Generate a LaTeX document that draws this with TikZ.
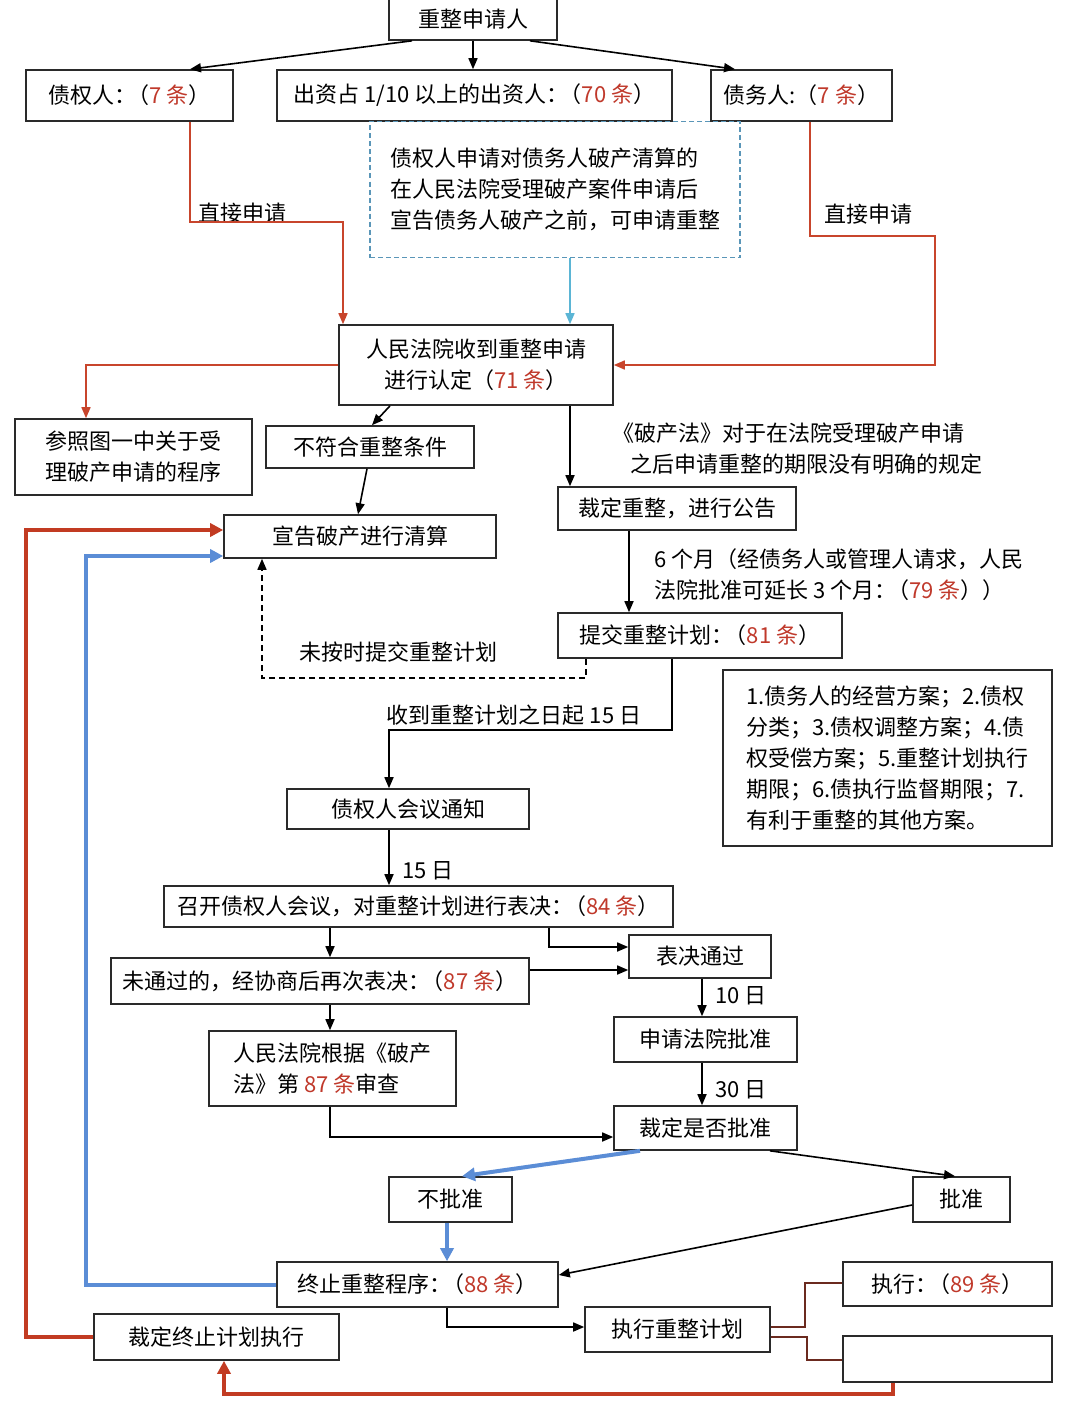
\documentclass[tikz,border=0pt]{standalone}
\usepackage{fontspec}
\setmainfont{Noto Sans CJK SC}
\usetikzlibrary{arrows.meta}
\definecolor{numred}{HTML}{C0392B}
\definecolor{boxc}{HTML}{2A2A2A}
\definecolor{redl}{HTML}{C8452C}
\definecolor{thickred}{HTML}{C23B22}
\definecolor{bluel}{HTML}{5B8DD6}
\definecolor{cyanl}{HTML}{5BB5D5}
\definecolor{dashb}{HTML}{5A96B8}
\definecolor{brownl}{HTML}{6B2A1F}
\newcommand\myfs{\fontsize{22}{31}\selectfont}
\newcommand\rn[1]{\textcolor{numred}{#1}}
\newcommand\cpar{：\kern-9pt（}
\tikzset{
  box/.style={draw=boxc, line width=1.6pt, inner sep=0pt, font=\myfs, align=center},
  lbl/.style={inner sep=0pt, font=\myfs},
  arr/.style={draw=black, line width=1.6pt, -{Triangle[length=11pt,width=9pt]}},
  dasharr/.style={draw=black, line width=1.6pt, dash pattern=on 6pt off 4pt, -{Triangle[length=11pt,width=9pt]}},
  redarr/.style={draw=redl, line width=1.5pt, -{Triangle[length=11pt,width=9pt]}},
  cyanarr/.style={draw=cyanl, line width=1.5pt, -{Triangle[length=11pt,width=9pt]}},
  bluearr/.style={draw=bluel, line width=4pt, -{Triangle[length=13pt,width=13pt]}},
  thickredarr/.style={draw=thickred, line width=4pt, -{Triangle[length=13pt,width=13pt]}},
  brownline/.style={draw=brownl, line width=1.5pt},
}
\begin{document}
\begin{tikzpicture}[x=1pt,y=-1pt]
\useasboundingbox[fill=white] (0,0) rectangle (1080,1402);

% boxes
\node[box, minimum width=168, minimum height=42] (top) at (473,19) {重整申请人};
\node[box, minimum width=207, minimum height=51] (cr) at (129.5,95.5) {债权人\cpar\rn{7 条}）};
\node[box, minimum width=395, minimum height=51] (inv) at (474.5,95.5) {出资占 1/10 以上的出资人\cpar\rn{70 条}）};
\node[box, minimum width=181, minimum height=51] (dr) at (801.5,95.5) {债务人:（\rn{7 条}）};
\node[draw=dashb, line width=1.5pt, dash pattern=on 5pt off 3pt, inner sep=0pt, font=\myfs, align=left,
      minimum width=370, minimum height=136] (dash) at (555,189.5)
  {债权人申请对债务人破产清算的\\在人民法院受理破产案件申请后\\宣告债务人破产之前，可申请重整};
\node[box, minimum width=274, minimum height=80] (court) at (476,365) {人民法院收到重整申请\\进行认定（\rn{71 条}）};
\node[box, minimum width=237, minimum height=76, align=left] (ref) at (133.5,457) {参照图一中关于受\\理破产申请的程序};
\node[box, minimum width=208, minimum height=42] (nq) at (370,447) {不符合重整条件};
\node[box, minimum width=272, minimum height=43] (liq) at (360,536.5) {宣告破产进行清算};
\node[box, minimum width=238, minimum height=43] (rul) at (677,508.5) {裁定重整，进行公告};
\node[box, minimum width=284, minimum height=45] (sub) at (700,635.5) {提交重整计划\cpar\rn{81 条}）};
\node[box, minimum width=329, minimum height=176, align=left] (list) at (887.5,758)
  {1.债务人的经营方案；2.债权\\分类；3.债权调整方案；4.债\\权受偿方案；5.重整计划执行\\期限；6.债执行监督期限；7.\\有利于重整的其他方案。};
\node[box, minimum width=242, minimum height=40] (notice) at (408,809) {债权人会议通知};
\node[box, minimum width=509, minimum height=41] (meet) at (418.5,906.5) {召开债权人会议，对重整计划进行表决\cpar\rn{84 条}）};
\node[box, minimum width=142, minimum height=43] (pass) at (700,956.5) {表决通过};
\node[box, minimum width=418, minimum height=46] (fail) at (320,981) {未通过的，经协商后再次表决\cpar\rn{87 条}）};
\node[box, minimum width=247, minimum height=75, align=left] (rev) at (332.5,1068.5) {人民法院根据《破产\\法》第 \rn{87 条}审查};
\node[box, minimum width=183, minimum height=45] (app) at (705.5,1039.5) {申请法院批准};
\node[box, minimum width=183, minimum height=44] (dec) at (705.5,1128) {裁定是否批准};
\node[box, minimum width=123, minimum height=45] (nap) at (450.5,1199.5) {不批准};
\node[box, minimum width=97, minimum height=45] (ap) at (961.5,1199.5) {批准};
\node[box, minimum width=281, minimum height=45] (term) at (417.5,1284.5) {终止重整程序\cpar\rn{88 条}）};
\node[box, minimum width=209, minimum height=44] (exe89) at (947.5,1284) {执行\cpar\rn{89 条}）};
\node[box, minimum width=185, minimum height=45] (exe) at (677.5,1329.5) {执行重整计划};
\node[box, minimum width=245, minimum height=46] (stop) at (216.5,1337) {裁定终止计划执行};
\node[box, minimum width=209, minimum height=46] (hid) at (947.5,1359) {};

% labels
\node[lbl] (l1) at (242,213) {直接申请};
\node[lbl] (l2) at (868,214) {直接申请};
\node[lbl, anchor=west, align=left] (l3) at (612,448.5) {《破产法》对于在法院受理破产申请\\\hspace*{18pt}之后申请重整的期限没有明确的规定};
\node[lbl, anchor=west, align=left] (l4) at (654,574.5) {6 个月（经债务人或管理人请求，人民\\法院批准可延长 3 个月\cpar\rn{79 条}））};
\node[lbl] (l5) at (398,652) {未按时提交重整计划};
\node[lbl] (l6) at (514,715) {收到重整计划之日起 15 日};
\node[lbl, anchor=west] (l7) at (402,871) {15 日};
\node[lbl, anchor=west] (l8) at (715,996) {10 日};
\node[lbl, anchor=west] (l9) at (715,1090) {30 日};

% connectors
\draw[arr] (top.south -| 412,0) -- (cr.north -| 190,0);
\draw[arr] (top.south) -- (top.south |- inv.north);
\draw[arr] (top.south -| 530,0) -- (dr.north -| 735,0);
\draw[redarr] (cr.south -| 190,0) -- (190,222) -- (343,222) -- (court.north -| 343,0);
\draw[redarr] (dr.south -| 810,0) -- (810,236) -- (935,236) -- (935,365) -- (court.east);
\draw[cyanarr] (dash.south -| 570,0) -- (court.north -| 570,0);
\draw[redarr] (court.west) -- (86,365) -- (ref.north -| 86,0);
\draw[arr] (court.south -| 390,0) -- (nq.north -| 372,0);
\draw[arr] (nq.south -| 367,0) -- (liq.north -| 358,0);
\draw[arr] (court.south -| 570,0) -- (rul.north -| 570,0);
\draw[arr] (rul.south -| 629,0) -- (sub.north -| 629,0);
\draw[dasharr] (sub.south -| 586,0) -- (586,678) -- (262,678) -- (liq.south -| 262,0);
\draw[arr] (sub.south -| 672,0) -- (672,730) -- (389,730) -- (notice.north -| 389,0);
\draw[arr] (notice.south -| 389,0) -- (meet.north -| 389,0);
\draw[arr] (meet.south -| 330,0) -- (fail.north -| 330,0);
\draw[arr] (meet.south -| 549,0) -- (549,947) -- (pass.west |- 0,947);
\draw[arr] (fail.east |- 0,970) -- (pass.west |- 0,970);
\draw[arr] (fail.south -| 330,0) -- (rev.north -| 330,0);
\draw[arr] (pass.south -| 702,0) -- (app.north -| 702,0);
\draw[arr] (app.south -| 702,0) -- (dec.north -| 702,0);
\draw[arr] (rev.south -| 330,0) -- (330,1137) -- (dec.west |- 0,1137);
\draw[bluearr] (dec.south -| 640,0) -- (nap.north -| 462,0);
\draw[arr] (dec.south -| 770,0) -- (ap.north -| 955,0);
\draw[bluearr] (nap.south -| 447,0) -- (term.north -| 447,0);
\draw[arr] (ap.west |- 0,1205) -- (term.east |- 0,1275);
\draw[bluearr] (term.west) -- (86,1284.5) -- (86,556) -- (liq.west |- 0,556);
\draw[thickredarr] (stop.west) -- (26,1337) -- (26,530) -- (liq.west |- 0,530);
\draw[arr] (term.south -| 447,0) -- (447,1327) -- (exe.west |- 0,1327);
\draw[brownline] (exe.east |- 0,1327) -- (805,1327) -- (805,1283) -- (exe89.west |- 0,1283);
\draw[brownline] (exe.east |- 0,1337) -- (807,1337) -- (807,1360) -- (hid.west |- 0,1360);
\draw[thickredarr] (hid.south -| 893,0) -- (893,1394) -- (224,1394) -- (stop.south -| 224,0);
\end{tikzpicture}
\end{document}
